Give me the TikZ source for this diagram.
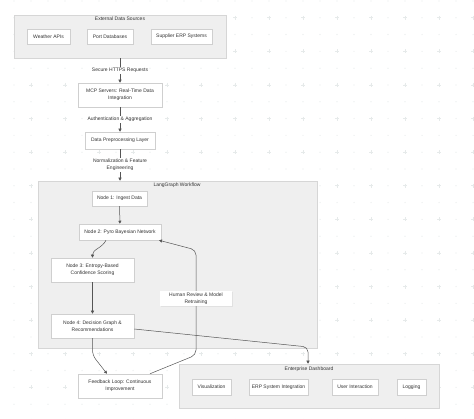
\documentclass[tikz,border=0pt]{standalone}
\usepackage{fontspec}
\setmainfont{Liberation Sans}
\usetikzlibrary{arrows.meta,shadows}
\definecolor{grpfill}{HTML}{EFEFEF}
\definecolor{grpline}{HTML}{D6D6D6}
\definecolor{boxline}{HTML}{CFCFCF}
\definecolor{wire}{HTML}{555555}
\definecolor{ink}{HTML}{333333}
\definecolor{gridc}{HTML}{E6EAEA}
\tikzset{
  group/.style={draw=grpline, fill=grpfill, line width=0.5pt, inner sep=0pt},
  grptitle/.style={text=ink, inner sep=0pt},
  box/.style={draw=boxline, fill=white, line width=0.5pt, inner sep=0pt, text=ink,
    align=center, drop shadow={opacity=0.12, shadow xshift=0.6pt, shadow yshift=-0.6pt}},
  elabel/.style={fill=white, text=ink, inner sep=1pt, align=center},
  flow/.style={draw=wire, line width=0.5pt, -{Triangle[length=3pt,width=3pt]}},
}
\begin{document}
\begin{tikzpicture}[x=1pt, y=-1pt, font=\fontsize{5}{7.3}\selectfont]
		%%%%% START %%%%%
		\useasboundingbox (0,0) rectangle (474,419);
		\fill[white] (0,0) rectangle (474,419);
		
		% dotted background
		\foreach \i in {0,...,27}{
			\foreach \j in {0,...,24}{
				\fill[gridc] ({14+17*\i},{1+16.8*\j}) circle (0.6);
			}
		}
		\foreach \i in {0,...,13}{
			\foreach \j in {0,...,12}{
				\draw[gridc, line width=0.6pt] ({31+34*\i-2},{17.8+33.6*\j}) -- ++(4,0)
					({31+34*\i},{17.8+33.6*\j-2}) -- ++(0,4);
			}
		}
		
		% external sources
		\node[group, minimum width=212, minimum height=43] (extsrc) at (120,36.5) {};
		\node[grptitle] (extsrctitle) at (120,19) {External Data Sources};
		\node[box, minimum width=43, minimum height=15] (weather) at (48.5,36.5) {Weather APIs};
		\node[box, minimum width=46, minimum height=15] (portdb) at (110,36.5) {Port Databases};
		\node[box, minimum width=61, minimum height=15] (supplier) at (181.5,36.5) {Supplier ERP Systems};
		
		\node[box, minimum width=84, minimum height=24] (mcp) at (120,95) {MCP Servers: Real-Time Data\\Integration};
		\node[box, minimum width=70, minimum height=17] (prep) at (120,140.5) {Data Preprocessing Layer};
		
		% langgraph
		\node[group, minimum width=279, minimum height=167] (langgraph) at (177.5,264.5) {};
		\node[grptitle] (langgraphtitle) at (177,185.5) {LangGraph Workflow};
		\node[box, minimum width=55, minimum height=15] (n1) at (119.5,198.5) {Node 1: Ingest Data};
		\node[box, minimum width=82, minimum height=16] (n2) at (120,232) {Node 2: Pyro Bayesian Network};
		\node[box, minimum width=83, minimum height=24] (n3) at (92.5,270) {Node 3: Entropy-Based\\Confidence Scoring};
		\node[box, minimum width=83, minimum height=24] (n4) at (92.5,326) {Node 4: Decision Graph \&\\Recommendations};
		
		\node[box, minimum width=84, minimum height=24] (feedback) at (120,386) {Feedback Loop: Continuous\\Improvement};
		
		% dashboard
		\node[group, minimum width=260, minimum height=44] (dash) at (309,386) {};
		\node[grptitle] (dashtitle) at (309,369.5) {Enterprise Dashboard};
		\node[box, minimum width=39, minimum height=16] (vis) at (211.5,387) {Visualization};
		\node[box, minimum width=59, minimum height=16] (erp) at (278.5,387) {ERP System Integration};
		\node[box, minimum width=46, minimum height=16] (ui) at (355,387) {User Interaction};
		\node[box, minimum width=29, minimum height=16] (logging) at (411.5,387) {Logging};
		
		% connectors
		\draw[flow] (extsrc) -- node[elabel] {Secure HTTPS Requests} (mcp);
		\draw[flow] (mcp) -- node[elabel] {Authentication \& Aggregation} (prep);
		\draw[flow] (prep) -- node[elabel] {Normalization \& Feature\\Engineering} (prep.south |- langgraph.north);
		\draw[flow] (n1) -- (n2);
		\draw[flow] ([xshift=-14pt]n2.south) to[out=-115, in=90] (n3.north);
		\draw[flow] (n3) -- (n4);
		\draw[flow, rounded corners=5pt] (n4.south) -- ++(0,17) -- ([xshift=-13pt]feedback.north);
		
		\coordinate (revlow) at (196,355);
		\coordinate (revtop) at (196,250);
		\draw[flow, rounded corners=5pt] ([xshift=30pt]feedback.north) -- (revlow) -- (revtop) -- ([xshift=39pt]n2.south);
		\node[box, draw=none, drop shadow={opacity=0}, minimum width=72, minimum height=15] (review) at (196,298.5) {Human Review \& Model\\Retraining};
		
		\draw[flow, rounded corners=5pt] ([yshift=-3pt]n4.east) -- (308,347) -- (dash.north -| 308,0);
		
		%%%%% END %%%%%
\end{tikzpicture}
\end{document}
